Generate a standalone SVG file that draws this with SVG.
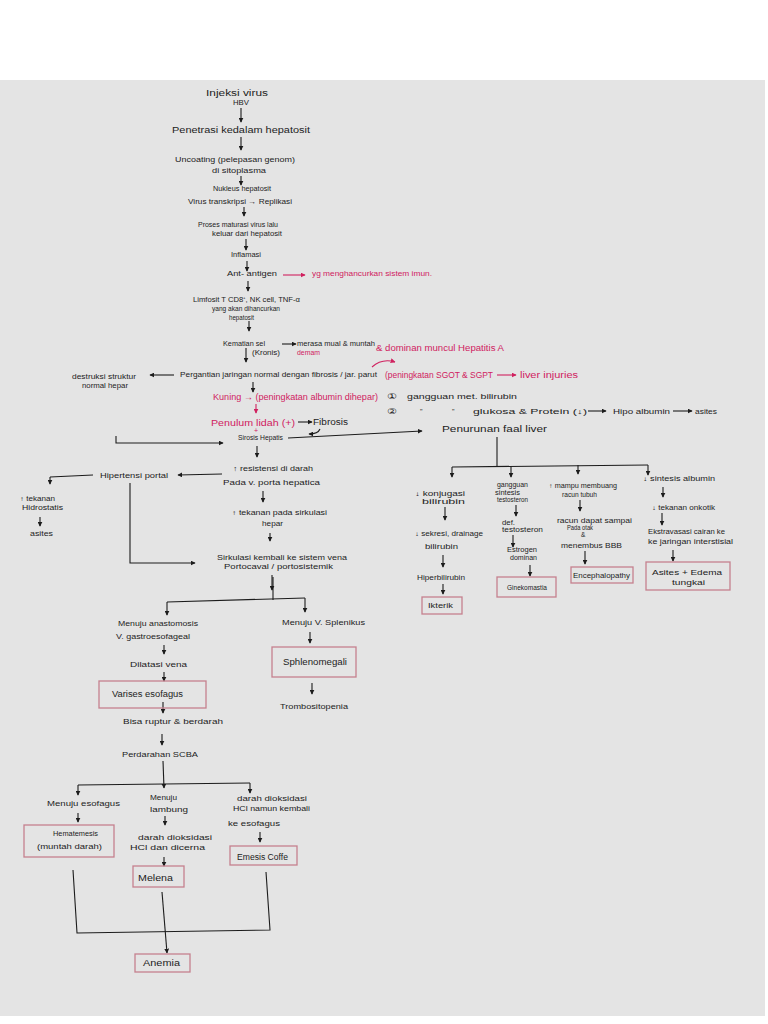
<svg xmlns="http://www.w3.org/2000/svg" width="768" height="1024" viewBox="0 0 768 1024">
<defs>
<style>
text{font-family:"Liberation Sans",Arial,sans-serif;font-size:7px;fill:#1c1c1c}
.r{fill:#d0215f}
.m{font-size:8.5px}
.s{font-size:6.5px}
.box{fill:none;stroke:#c5808e;stroke-width:1.3}
.ln{stroke:#1c1c1c;stroke-width:1.1;fill:none}
.lr{stroke:#d0215f;stroke-width:1.1;fill:none}
</style>
<marker id="ah" viewBox="0 0 8 8" refX="7" refY="4" markerWidth="5" markerHeight="5" orient="auto" markerUnits="userSpaceOnUse"><path d="M0,0 L8,4 L0,8 z" fill="#1c1c1c"/></marker>
<marker id="ar" viewBox="0 0 8 8" refX="7" refY="4" markerWidth="5" markerHeight="5" orient="auto" markerUnits="userSpaceOnUse"><path d="M0,0 L8,4 L0,8 z" fill="#d0215f"/></marker>
</defs>
<rect x="0" y="0" width="768" height="1024" fill="#ffffff"/>
<rect x="0" y="80" width="765" height="936" fill="#e4e4e4"/>

<g id="connectors">
<g class="ln" marker-end="url(#ah)">
<path d="M241,108 V122"/>
<path d="M241,137 V150"/>
<path d="M241,176 V185"/>
<path d="M244,207 V216"/>
<path d="M246,239 V250"/>
<path d="M247,261 V271"/>
<path d="M248,281 V291"/>
<path d="M249,321 V331"/>
<path d="M246,348 V362"/>
<path d="M282,344 H296"/>
<path d="M174,375 H150"/>
<path d="M253,382 V392"/>
<path d="M298,422 H312"/>
<path d="M320,429 Q318,434 309,434"/>
<path d="M116,436 V443 H223"/>
<path d="M288,438 L422,431"/>
<path d="M588,411 H606"/>
<path d="M673,411 H692"/>
<path d="M257,446 V457"/>
<path d="M452,467 V477"/>
<path d="M511,466 V477"/>
<path d="M578,465 V474"/>
<path d="M648,465 V475"/>
<path d="M222,474 L178,475"/>
<path d="M50,477 V484"/>
<path d="M40,517 V526"/>
<path d="M130,483 V563 H195"/>
<path d="M263,491 V502"/>
<path d="M270,533 V541"/>
<path d="M272,575 V590"/>
<path d="M167,602 V615"/>
<path d="M305,598 V612"/>
<path d="M164,645 V654"/>
<path d="M164,672 V681"/>
<path d="M163,702 V713"/>
<path d="M162,734 V745"/>
<path d="M310,632 V643"/>
<path d="M312,683 V694"/>
<path d="M163,761 L164,788"/>
<path d="M78,785 V795"/>
<path d="M250,783 V793"/>
<path d="M78,813 V822"/>
<path d="M165,816 V825"/>
<path d="M164,857 V866"/>
<path d="M260,832 V842"/>
<path d="M162,892 L167,953"/>
<path d="M445,507 V520"/>
<path d="M443,555 V567"/>
<path d="M443,584 V594"/>
<path d="M516,505 V516"/>
<path d="M513,535 V547"/>
<path d="M530,565 V576"/>
<path d="M580,500 V511"/>
<path d="M585,551 V564"/>
<path d="M663,487 V497"/>
<path d="M662,513 V525"/>
<path d="M673,550 V561"/>
</g>
<g class="ln">
<path d="M273,577 V600"/>
<path d="M167,602 L305,598"/>
<path d="M93,475 L50,477"/>
<path d="M78,785 L250,783"/>
<path d="M497,437 V466"/>
<path d="M452,467 L648,465"/>
<path d="M73,870 L77,933 L270,930 L266,872"/>
</g>
<g class="lr" marker-end="url(#ar)">
<path d="M283,275 H305"/>
<path d="M372,367 Q382,358 395,362"/>
<path d="M497,375 H516"/>
<path d="M256,404 V413"/>
</g>
</g>

<g id="n-injeksi"><text x="206" y="96" textLength="62" lengthAdjust="spacingAndGlyphs" class="m">Injeksi virus</text><text x="233" y="105" textLength="16" lengthAdjust="spacingAndGlyphs">HBV</text></g>
<g id="n-penetrasi"><text x="172" y="133" textLength="138" lengthAdjust="spacingAndGlyphs" class="m">Penetrasi kedalam hepatosit</text></g>
<g id="n-uncoating"><text x="175" y="162" textLength="120" lengthAdjust="spacingAndGlyphs">Uncoating (pelepasan genom)</text><text x="212" y="173" textLength="54" lengthAdjust="spacingAndGlyphs">di sitoplasma</text></g>
<g id="n-nukleus"><text x="213" y="191" textLength="58" lengthAdjust="spacingAndGlyphs">Nukleus hepatosit</text></g>
<g id="n-transkripsi"><text x="188" y="204" textLength="104" lengthAdjust="spacingAndGlyphs">Virus transkripsi → Replikasi</text></g>
<g id="n-maturasi"><text x="198" y="227" textLength="80" lengthAdjust="spacingAndGlyphs" class="s">Proses maturasi virus lalu</text><text x="212" y="236" textLength="70" lengthAdjust="spacingAndGlyphs" class="s">keluar dari hepatosit</text></g>
<g id="n-inflamasi"><text x="231" y="257" textLength="30" lengthAdjust="spacingAndGlyphs" class="s">Inflamasi</text></g>
<g id="n-antigen"><text x="227" y="276" textLength="50" lengthAdjust="spacingAndGlyphs" class="s">Ant- antigen</text><text x="312" y="276" textLength="120" lengthAdjust="spacingAndGlyphs" class="r">yg menghancurkan sistem imun.</text></g>
<g id="n-limfosit"><text x="193" y="302" textLength="107" lengthAdjust="spacingAndGlyphs" class="s">Limfosit T CD8⁺, NK cell, TNF-α</text><text x="212" y="311" textLength="68" lengthAdjust="spacingAndGlyphs" class="s">yang akan dihancurkan</text><text x="229" y="320" textLength="25" lengthAdjust="spacingAndGlyphs" class="s">hepatosit</text></g>
<g id="n-kematian"><text x="223" y="346" textLength="42" lengthAdjust="spacingAndGlyphs" class="s">Kematian sel</text><text x="252" y="355" textLength="28" lengthAdjust="spacingAndGlyphs" class="s">(Kronis)</text><text x="297" y="346" textLength="78" lengthAdjust="spacingAndGlyphs" class="s">merasa mual &amp; muntah</text><text x="297" y="355" textLength="23" lengthAdjust="spacingAndGlyphs" class="r s">demam</text><text x="376" y="351" textLength="128" lengthAdjust="spacingAndGlyphs" class="r m">&amp; dominan muncul Hepatitis A</text></g>
<g id="n-pergantian"><text x="180" y="377" textLength="197" lengthAdjust="spacingAndGlyphs" class="s">Pergantian jaringan normal dengan fibrosis / jar. parut</text><text x="385" y="378" textLength="108" lengthAdjust="spacingAndGlyphs" class="r m">(peningkatan SGOT &amp; SGPT</text><text x="520" y="378" textLength="58" lengthAdjust="spacingAndGlyphs" class="r m">liver injuries</text></g>
<g id="n-destruksi"><text x="72" y="379" textLength="64" lengthAdjust="spacingAndGlyphs" class="s">destruksi struktur</text><text x="82" y="388" textLength="46" lengthAdjust="spacingAndGlyphs" class="s">normal hepar</text></g>
<g id="n-kuning"><text x="213" y="400" textLength="165" lengthAdjust="spacingAndGlyphs" class="r m">Kuning → (peningkatan albumin dihepar)</text></g>
<g id="n-gangguan"><text x="387" y="399" textLength="10" lengthAdjust="spacingAndGlyphs" style="font-family:'DejaVu Sans',sans-serif;font-size:8px">①</text><text x="407" y="399" textLength="110" lengthAdjust="spacingAndGlyphs">gangguan  met. bilirubin</text><text x="387" y="414" textLength="10" lengthAdjust="spacingAndGlyphs" style="font-family:'DejaVu Sans',sans-serif;font-size:8px">②</text><text x="420" y="414" textLength="4">"</text><text x="452" y="414" textLength="4">"</text><text x="473" y="414" textLength="114" lengthAdjust="spacingAndGlyphs">glukosa  &amp; Protein (↓)</text><text x="613" y="414" textLength="57" lengthAdjust="spacingAndGlyphs">Hipo albumin</text><text x="695" y="414" textLength="22" lengthAdjust="spacingAndGlyphs">asites</text></g>
<g id="n-penulum"><text x="211" y="426" textLength="84" lengthAdjust="spacingAndGlyphs" class="r m">Penulum  lidah (+)</text><text x="313" y="425" textLength="35" lengthAdjust="spacingAndGlyphs" class="m">Fibrosis</text><text x="254" y="433" class="r">+</text></g>
<g id="n-sirosis"><text x="238" y="440" textLength="45" lengthAdjust="spacingAndGlyphs" class="s">Sirosis Hepatis</text></g>
<g id="n-penurunan"><text x="442" y="432" textLength="105" lengthAdjust="spacingAndGlyphs" class="m">Penurunan faal liver</text></g>
<g id="n-resistensi"><text x="233" y="471" textLength="80" lengthAdjust="spacingAndGlyphs">↑ resistensi di darah</text><text x="223" y="485" textLength="97" lengthAdjust="spacingAndGlyphs">Pada v. porta hepatica</text></g>
<g id="n-hipertensi"><text x="100" y="478" textLength="68" lengthAdjust="spacingAndGlyphs">Hipertensi portal</text></g>
<g id="n-hidrostatis"><text x="20" y="501" textLength="35" lengthAdjust="spacingAndGlyphs" class="s">↑ tekanan</text><text x="22" y="510" textLength="41" lengthAdjust="spacingAndGlyphs" class="s">Hidrostatis</text></g>
<g id="n-asites1"><text x="30" y="536" textLength="23" lengthAdjust="spacingAndGlyphs" class="s">asites</text></g>
<g id="n-tekanan"><text x="232" y="515" textLength="95" lengthAdjust="spacingAndGlyphs" class="s">↑ tekanan pada sirkulasi</text><text x="262" y="526" textLength="21" lengthAdjust="spacingAndGlyphs" class="s">hepar</text></g>
<g id="n-sirkulasi"><text x="217" y="560" textLength="130" lengthAdjust="spacingAndGlyphs" class="s">Sirkulasi kembali ke sistem vena</text><text x="224" y="569" textLength="109" lengthAdjust="spacingAndGlyphs" class="s">Portocaval / portosistemik</text></g>
<g id="n-anastomosis"><text x="118" y="626" textLength="80" lengthAdjust="spacingAndGlyphs">Menuju anastomosis</text><text x="116" y="639" textLength="74" lengthAdjust="spacingAndGlyphs">V. gastroesofageal</text></g>
<g id="n-dilatasi"><text x="130" y="667" textLength="57" lengthAdjust="spacingAndGlyphs">Dilatasi vena</text></g>
<g id="n-varises"><rect class="box" x="99" y="681" width="107" height="27"/><text x="112" y="697" textLength="71" lengthAdjust="spacingAndGlyphs" class="m">Varises esofagus</text></g>
<g id="n-ruptur"><text x="123" y="724" textLength="100" lengthAdjust="spacingAndGlyphs">Bisa ruptur &amp; berdarah</text></g>
<g id="n-scba"><text x="122" y="757" textLength="76" lengthAdjust="spacingAndGlyphs">Perdarahan SCBA</text></g>
<g id="n-splenikus"><text x="282" y="625" textLength="83" lengthAdjust="spacingAndGlyphs">Menuju V. Splenikus</text></g>
<g id="n-splenomegali"><rect class="box" x="272" y="647" width="84" height="30"/><text x="283" y="665" textLength="64" lengthAdjust="spacingAndGlyphs" class="m">Sphlenomegali</text></g>
<g id="n-trombositopenia"><text x="280" y="709" textLength="68" lengthAdjust="spacingAndGlyphs">Trombositopenia</text></g>
<g id="n-esofagus"><text x="47" y="806" textLength="73" lengthAdjust="spacingAndGlyphs">Menuju esofagus</text></g>
<g id="n-hematemesis"><rect class="box" x="24" y="825" width="90" height="32"/><text x="53" y="836" textLength="45" lengthAdjust="spacingAndGlyphs">Hematemesis</text><text x="37" y="849" textLength="65" lengthAdjust="spacingAndGlyphs">(muntah darah)</text></g>
<g id="n-lambung"><text x="150" y="800" textLength="27" lengthAdjust="spacingAndGlyphs">Menuju</text><text x="150" y="812" textLength="38" lengthAdjust="spacingAndGlyphs">lambung</text></g>
<g id="n-dioksidasi"><text x="138" y="840" textLength="74" lengthAdjust="spacingAndGlyphs">darah dioksidasi</text><text x="130" y="850" textLength="75" lengthAdjust="spacingAndGlyphs">HCl  dan dicerna</text></g>
<g id="n-melena"><rect class="box" x="133" y="866" width="51" height="21"/><text x="138" y="881" textLength="35" lengthAdjust="spacingAndGlyphs" class="m">Melena</text></g>
<g id="n-kembali"><text x="237" y="801" textLength="70" lengthAdjust="spacingAndGlyphs">darah dioksidasi</text><text x="233" y="811" textLength="77" lengthAdjust="spacingAndGlyphs">HCl namun kembali</text><text x="228" y="826" textLength="52" lengthAdjust="spacingAndGlyphs">ke esofagus</text></g>
<g id="n-emesis"><rect class="box" x="230" y="846" width="67" height="19"/><text x="237" y="860" textLength="51" lengthAdjust="spacingAndGlyphs" class="m">Emesis Coffe</text></g>
<g id="n-anemia"><rect class="box" x="135" y="954" width="55" height="18"/><text x="143" y="966" textLength="37" lengthAdjust="spacingAndGlyphs" class="m">Anemia</text></g>
<g id="n-konjugasi"><text x="415" y="496" textLength="50" lengthAdjust="spacingAndGlyphs" class="s">↓ konjugasi</text><text x="422" y="504" textLength="43" lengthAdjust="spacingAndGlyphs" class="s">bilirubin</text></g>
<g id="n-sekresi"><text x="415" y="536" textLength="68" lengthAdjust="spacingAndGlyphs" class="s">↓ sekresi, drainage</text><text x="425" y="549" textLength="33" lengthAdjust="spacingAndGlyphs" class="s">bilirubin</text></g>
<g id="n-hiperbilirubin"><text x="417" y="580" textLength="48" lengthAdjust="spacingAndGlyphs" class="s">Hiperbilirubin</text></g>
<g id="n-ikterik"><rect class="box" x="422" y="597" width="40" height="17"/><text x="428" y="608" textLength="25" lengthAdjust="spacingAndGlyphs" class="s">Ikterik</text></g>
<g id="n-testosteron"><text x="497" y="487" textLength="31" lengthAdjust="spacingAndGlyphs" class="s">gangguan</text><text x="495" y="495" textLength="25" lengthAdjust="spacingAndGlyphs" class="s">sintesis</text><text x="497" y="502" textLength="31" lengthAdjust="spacingAndGlyphs" class="s">testosteron</text></g>
<g id="n-def"><text x="502" y="525" textLength="13" lengthAdjust="spacingAndGlyphs" class="s">def.</text><text x="502" y="532" textLength="41" lengthAdjust="spacingAndGlyphs" class="s">testosteron</text></g>
<g id="n-estrogen"><text x="507" y="552" textLength="30" lengthAdjust="spacingAndGlyphs" class="s">Estrogen</text><text x="510" y="560" textLength="27" lengthAdjust="spacingAndGlyphs" class="s">dominan</text></g>
<g id="n-ginekomastia"><rect class="box" x="497" y="577" width="59" height="20"/><text x="507" y="590" textLength="40" lengthAdjust="spacingAndGlyphs" class="s">Ginekomastia</text></g>
<g id="n-racun"><text x="549" y="488" textLength="68" lengthAdjust="spacingAndGlyphs" class="s">↑ mampu membuang</text><text x="562" y="497" textLength="35" lengthAdjust="spacingAndGlyphs" class="s">racun tubuh</text></g>
<g id="n-otak"><text x="557" y="523" textLength="75" lengthAdjust="spacingAndGlyphs" class="s">racun dapat sampai</text><text x="567" y="530" textLength="26" lengthAdjust="spacingAndGlyphs" class="s">Pada otak</text><text x="581" y="537" class="s">&amp;</text><text x="561" y="548" textLength="61" lengthAdjust="spacingAndGlyphs" class="s">menembus BBB</text></g>
<g id="n-encephalopathy"><rect class="box" x="571" y="567" width="62" height="16"/><text x="573" y="578" textLength="57" lengthAdjust="spacingAndGlyphs" class="s">Encephalopathy</text></g>
<g id="n-albumin"><text x="643" y="481" textLength="72" lengthAdjust="spacingAndGlyphs" class="s">↓ sintesis albumin</text></g>
<g id="n-onkotik"><text x="652" y="510" textLength="63" lengthAdjust="spacingAndGlyphs" class="s">↓ tekanan onkotik</text></g>
<g id="n-ekstravasasi"><text x="648" y="534" textLength="77" lengthAdjust="spacingAndGlyphs" class="s">Ekstravasasi cairan ke</text><text x="648" y="544" textLength="85" lengthAdjust="spacingAndGlyphs" class="s">ke jaringan interstisial</text></g>
<g id="n-edema"><rect class="box" x="646" y="562" width="84" height="28"/><text x="652" y="575" textLength="70" lengthAdjust="spacingAndGlyphs">Asites + Edema</text><text x="672" y="585" textLength="33" lengthAdjust="spacingAndGlyphs">tungkai</text></g>
</svg>
